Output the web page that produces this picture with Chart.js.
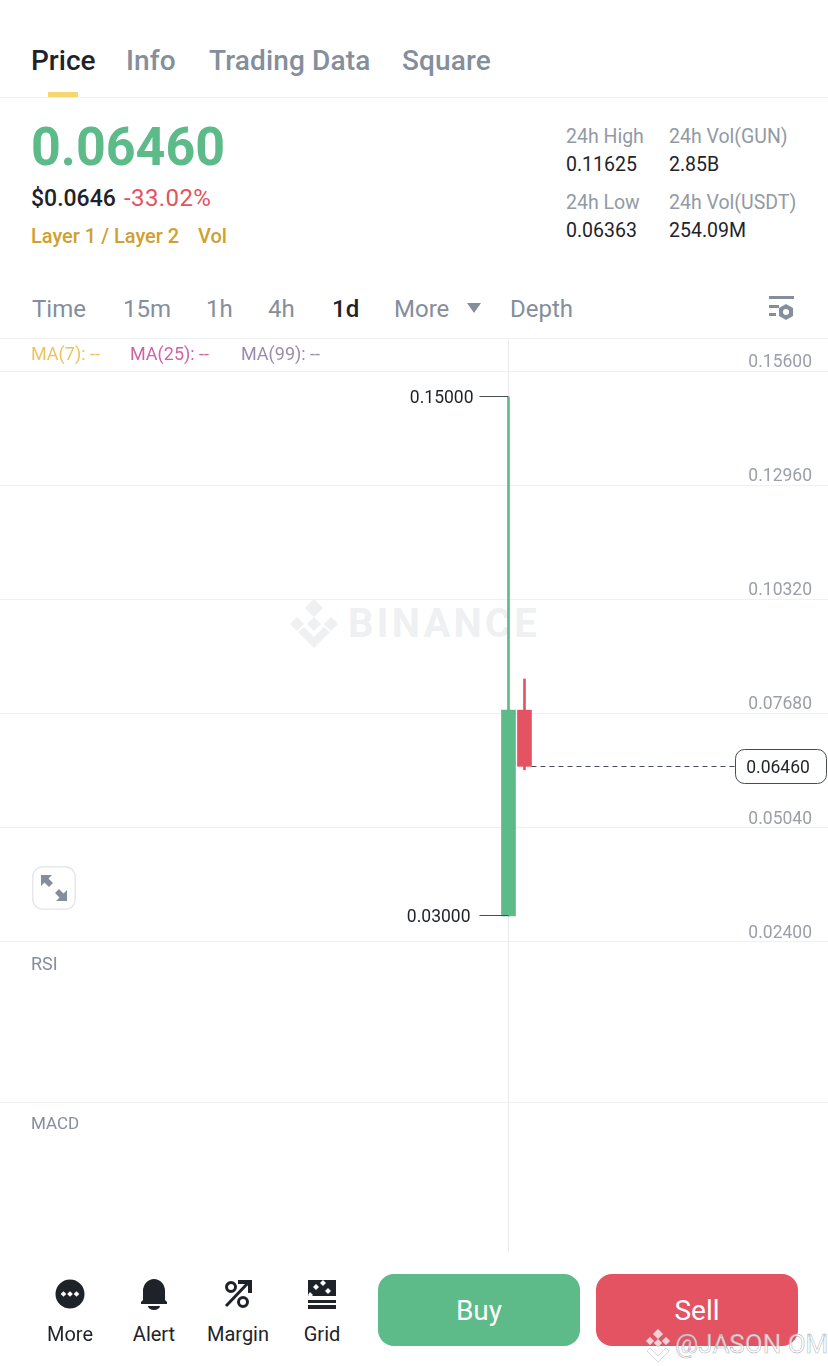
<!DOCTYPE html>
<html>
<head>
<meta charset="utf-8">
<script src="https://cdn.jsdelivr.net/npm/chart.js@4/dist/chart.umd.min.js"></script>
<style>
  html, body { margin: 0; padding: 0; background: #fff; }
  body { position: relative; width: 828px; height: 1366px; overflow: hidden; font-family: Roboto, sans-serif; color: #1e2329; }
  .t { position: absolute; white-space: nowrap; line-height: 1; }
  .tab { top: 47px; font-size: 28px; font-weight: 500; color: #848e9c; letter-spacing: .15px; }
  .sm { font-size: 19.5px; color: #929aa5; }
  .val { font-size: 19.5px; color: #1e2329; }
  .tf { top: 297px; font-size: 24px; color: #848e9c; }
  .ma { top: 345px; font-size: 18px; }
  .hr { position: absolute; left: 0; width: 828px; height: 1px; background: #eef0f2; }
  .tool { top: 1324px; font-size: 20px; color: #1e2329; transform: translateX(-50%); }
  .btn { position: absolute; top: 1274px; height: 72px; width: 202px; border-radius: 16px; color: #fff; font-size: 28px; display: flex; align-items: center; justify-content: center; }
  svg { position: absolute; }
  #grafico { position: absolute; left: 0; top: 338px; }
</style>
</head>
<body>

<div class="t tab" style="left:31px;color:#1e2329;letter-spacing:0">Price</div>
<div class="t tab" style="left:126px">Info</div>
<div class="t tab" style="left:209px">Trading Data</div>
<div class="t tab" style="left:402px">Square</div>
<div style="position:absolute;left:48px;top:92px;width:30px;height:5px;background:#f5d76e"></div>
<div class="hr" style="top:97px"></div>

<div class="t" style="left:31px;top:120px;font-size:54px;font-weight:700;color:#5dba89;transform:scaleX(.963);transform-origin:left">0.06460</div>
<div class="t" style="left:31px;top:187px;font-size:23px;font-weight:500">$0.0646</div>
<div class="t" style="left:124px;top:186px;font-size:24px;color:#e35361;letter-spacing:.4px">-33.02%</div>
<div class="t" style="left:31px;top:226px;font-size:20px;font-weight:500;color:#d0a02f">Layer 1 / Layer 2</div>
<div class="t" style="left:198px;top:226px;font-size:20px;font-weight:500;color:#d0a02f">Vol</div>

<div class="t sm" style="left:566px;top:127px">24h High</div>
<div class="t sm" style="left:669px;top:127px">24h Vol(GUN)</div>
<div class="t val" style="left:566px;top:155px">0.11625</div>
<div class="t val" style="left:669px;top:155px">2.85B</div>
<div class="t sm" style="left:566px;top:193px">24h Low</div>
<div class="t sm" style="left:669px;top:193px">24h Vol(USDT)</div>
<div class="t val" style="left:566px;top:221px">0.06363</div>
<div class="t val" style="left:669px;top:221px">254.09M</div>

<div class="t tf" style="left:32px">Time</div>
<div class="t tf" style="left:123px">15m</div>
<div class="t tf" style="left:206px">1h</div>
<div class="t tf" style="left:268px">4h</div>
<div class="t tf" style="left:332px;color:#1e2329;font-weight:500">1d</div>
<div class="t tf" style="left:394px">More</div>
<svg style="left:466px;top:303px" width="16" height="11"><polygon points="1,0 15,0 8,10" fill="#848e9c"/></svg>
<div class="t tf" style="left:510px">Depth</div>
<svg style="left:768px;top:296px" width="28" height="26" fill="#848e9c">
  <rect x="1" y="0" width="25" height="3"/>
  <rect x="1" y="9" width="10" height="3"/>
  <rect x="1" y="17" width="7" height="3"/>
  <polygon points="18,8 25,12 25,20 18,24 11,20 11,12"/>
  <circle cx="18" cy="16" r="3" fill="#fff"/>
</svg>

<!-- watermark sits under the chart -->
<svg style="left:289px;top:599px" width="50" height="50" fill="#eff0f2">
  <polygon points="25,0 34,9 25,18 16,9"/>
  <polygon points="9,16 16,23 9,30 2,23" transform="translate(-1,2)"/>
  <polygon points="41,16 48,23 41,30 34,23" transform="translate(1,2)"/>
  <polygon points="25,18 32,25 25,32 18,25"/>
  <polygon points="25,49 9,33 15,28 25,38 35,28 41,33"/>
</svg>
<div class="t" style="left:348px;top:604px;font-size:40px;font-weight:700;letter-spacing:3.2px;color:#eff0f2">BINANCE</div>

<canvas id="grafico" width="828" height="915"></canvas>

<div class="hr" style="top:338px"></div>
<div class="hr" style="top:1102px"></div>
<div class="t ma" style="left:31px;color:#f0c25f">MA(7): --</div>
<div class="t ma" style="left:130px;color:#cf63a5">MA(25): --</div>
<div class="t ma" style="left:241px;color:#9b8bb0">MA(99): --</div>
<div class="t" style="left:31px;top:955px;font-size:18px;color:#848e9c">RSI</div>
<div class="t" style="left:31px;top:1115px;font-size:17px;color:#848e9c">MACD</div>

<svg style="left:32px;top:866px" width="44" height="44">
  <rect x=".75" y=".75" width="42.5" height="42.5" rx="10" fill="#fff" stroke="#e6e8ea" stroke-width="1.5"/>
  <g fill="#848e9c">
    <polygon points="9,9 20,9 16.5,12.5 21,17 17,21 12.5,16.5 9,20"/>
    <polygon points="35,35 24,35 27.5,31.5 23,27 27,23 31.5,27.5 35,24"/>
  </g>
</svg>

<svg style="left:55px;top:1279px" width="30" height="30"><circle cx="15" cy="15" r="14.5" fill="#1e2329"/><g fill="#fff"><rect x="6.5" y="13" width="4" height="4" transform="rotate(45 8.5 15)"/><rect x="13" y="13" width="4" height="4" transform="rotate(45 15 15)"/><rect x="19.5" y="13" width="4" height="4" transform="rotate(45 21.5 15)"/></g></svg>
<svg style="left:139px;top:1278px" width="30" height="32" fill="#1e2329"><path d="M4 22 V13 a11 12 0 0 1 22 0 V22 L28 24 V26 H2 V24 Z"/><path d="M9 28 H21 A6 4 0 0 1 9 28 Z"/></svg>
<svg style="left:224px;top:1279px" width="28" height="30" fill="none" stroke="#1e2329" stroke-width="3"><circle cx="7" cy="8" r="4.5"/><circle cx="19" cy="23" r="4.5"/><path d="M2 27 L24 4"/><path d="M14 3 H26 V14" stroke-width="4"/></svg>
<svg style="left:308px;top:1279px" width="28" height="30" fill="#1e2329"><path d="M0 1 H28 V17 H0 Z"/><path d="M0 21 H28 V24 H0 Z" /><path d="M0 26 H28 V30 H0 Z"/><g fill="#fff"><polygon points="8,5 11,8 8,11 5,8"/><polygon points="15,1 18,4 15,7 12,4"/><polygon points="20,9 23,12 20,15 17,12"/><polygon points="2,13 5,16 2,19 0,16"/></g></svg>
<div class="t tool" style="left:70px">More</div>
<div class="t tool" style="left:154px">Alert</div>
<div class="t tool" style="left:238px">Margin</div>
<div class="t tool" style="left:322px">Grid</div>
<div class="btn" style="left:378px;background:#5dba89">Buy</div>
<div class="btn" style="left:596px;background:#e35361">Sell</div>

<svg style="left:644px;top:1328px" width="28" height="36" fill="#fff" fill-opacity=".72" stroke="#b9bdc4" stroke-opacity=".7" stroke-width=".8">
  <polygon points="14,1 19,6 14,11 9,6"/>
  <polygon points="6,9 10,13 6,17 2,13"/>
  <polygon points="22,9 26,13 22,17 18,13"/>
  <polygon points="14,11 18,15 14,19 10,15"/>
  <polygon points="14,34 3,23 6,20 14,28 22,20 25,23"/>
</svg>
<div class="t" style="left:675px;top:1331px;font-size:26px;color:rgba(255,255,255,.72);-webkit-text-stroke:.6px rgba(150,155,165,.75)">@JASON OM</div>

<script>
/* ===== dados ===== */
const candleSlots = [0, 1];
const candleOpen  = [0.03000, 0.07760];
const candleClose = [0.07760, 0.06460];
const candleHigh  = [0.15000, 0.08480];
const candleLow   = [0.03000, 0.06380];

const tickValues = [0.156, 0.1296, 0.1032, 0.0768, 0.0504, 0.024];
const tickLabels = ["0.15600", "0.12960", "0.10320", "0.07680", "0.05040", "0.02400"];

const lastPrice = 0.0646;
const lastPriceLabel = "0.06460";
const highMark = { value: 0.15, label: "0.15000" };
const lowMark  = { value: 0.03, label: "0.03000" };

const VERDE = "#5dba89";
const VERMELHO = "#e35361";
const GRADE = "#eef0f2";

function corCandle(i) {
  return candleClose[i] >= candleOpen[i] ? VERDE : VERMELHO;
}

/* marcas de máximo/mínimo e linha do último preço */
const anotacoes = {
  id: "anotacoes",
  afterDatasetsDraw(chart) {
    const { ctx, scales: { x, y } } = chart;
    const cx = x.getPixelForValue(candleSlots[0]);
    ctx.save();
    ctx.font = "17.5px Roboto";
    ctx.textBaseline = "middle";
    ctx.textAlign = "right";
    ctx.fillStyle = "#1e2329";
    ctx.strokeStyle = "#474d57";
    ctx.lineWidth = 1;

    const yHigh = Math.round(y.getPixelForValue(highMark.value)) - 0.5;
    ctx.beginPath(); ctx.moveTo(cx - 29, yHigh); ctx.lineTo(cx, yHigh); ctx.stroke();
    ctx.fillText(highMark.label, cx - 35, yHigh + 2);

    const yLow = Math.round(y.getPixelForValue(lowMark.value)) - 0.5;
    ctx.beginPath(); ctx.moveTo(cx - 29, yLow); ctx.lineTo(cx, yLow); ctx.stroke();
    ctx.fillText(lowMark.label, cx - 38, yLow + 2.5);

    const yLast = Math.round(y.getPixelForValue(lastPrice)) + 0.5;
    ctx.setLineDash([5, 4]);
    ctx.beginPath(); ctx.moveTo(x.getPixelForValue(candleSlots[1]) + 7, yLast); ctx.lineTo(735, yLast); ctx.stroke();
    ctx.setLineDash([]);

    ctx.beginPath();
    ctx.roundRect(735.5, yLast - 17, 91, 34, 9);
    ctx.fillStyle = "#fff";
    ctx.fill();
    ctx.stroke();
    ctx.fillStyle = "#1e2329";
    ctx.textAlign = "center";
    ctx.fillText(lastPriceLabel, 778, yLast + 2);
    ctx.restore();
  }
};

function zeraMargens(s) {
  s.paddingTop = s.paddingBottom = s.paddingLeft = s.paddingRight = 0;
}

const chartInstance = new Chart(document.getElementById("grafico").getContext("2d"), {
  type: "bar",
  data: {
    datasets: [
      {
        label: "pavio",
        data: candleSlots.map((s, i) => ({ x: s, y: [candleLow[i], candleHigh[i]] })),
        backgroundColor: candleSlots.map((s, i) => corCandle(i)),
        barThickness: 2,
        grouped: false,
        order: 2
      },
      {
        label: "corpo",
        data: candleSlots.map((s, i) => ({ x: s, y: [candleOpen[i], candleClose[i]] })),
        backgroundColor: candleSlots.map((s, i) => corCandle(i)),
        barThickness: 14,
        grouped: false,
        order: 1
      }
    ]
  },
  plugins: [anotacoes],
  options: {
    responsive: false,
    animation: false,
    devicePixelRatio: 1,
    layout: { padding: 0 },
    plugins: { legend: { display: false }, tooltip: { enabled: false } },
    scales: {
      x: {
        type: "linear",
        offset: false,
        min: -31.78,
        max: 19.97,
        afterBuildTicks: s => { s.ticks = [{ value: candleSlots[0] }]; },
        afterFit: s => { s.height = 0; zeraMargens(s); },
        ticks: { display: false },
        grid: { offset: false, color: "#e9ebee", drawTicks: false },
        border: { display: false }
      },
      y: {
        position: "right",
        min: -0.0479,
        max: 0.16363,
        afterBuildTicks: s => { s.ticks = tickValues.map(v => ({ value: v })); },
        afterFit: s => { s.width = 0; zeraMargens(s); },
        ticks: {
          mirror: true,
          padding: -16,
          labelOffset: -8.5,
          color: "#9a9fa9",
          font: { family: "Roboto", size: 17.5 },
          callback: v => tickLabels[tickValues.indexOf(v)]
        },
        grid: { color: GRADE, drawTicks: false },
        border: { display: false }
      }
    }
  }
});
</script>
</body>
</html>
